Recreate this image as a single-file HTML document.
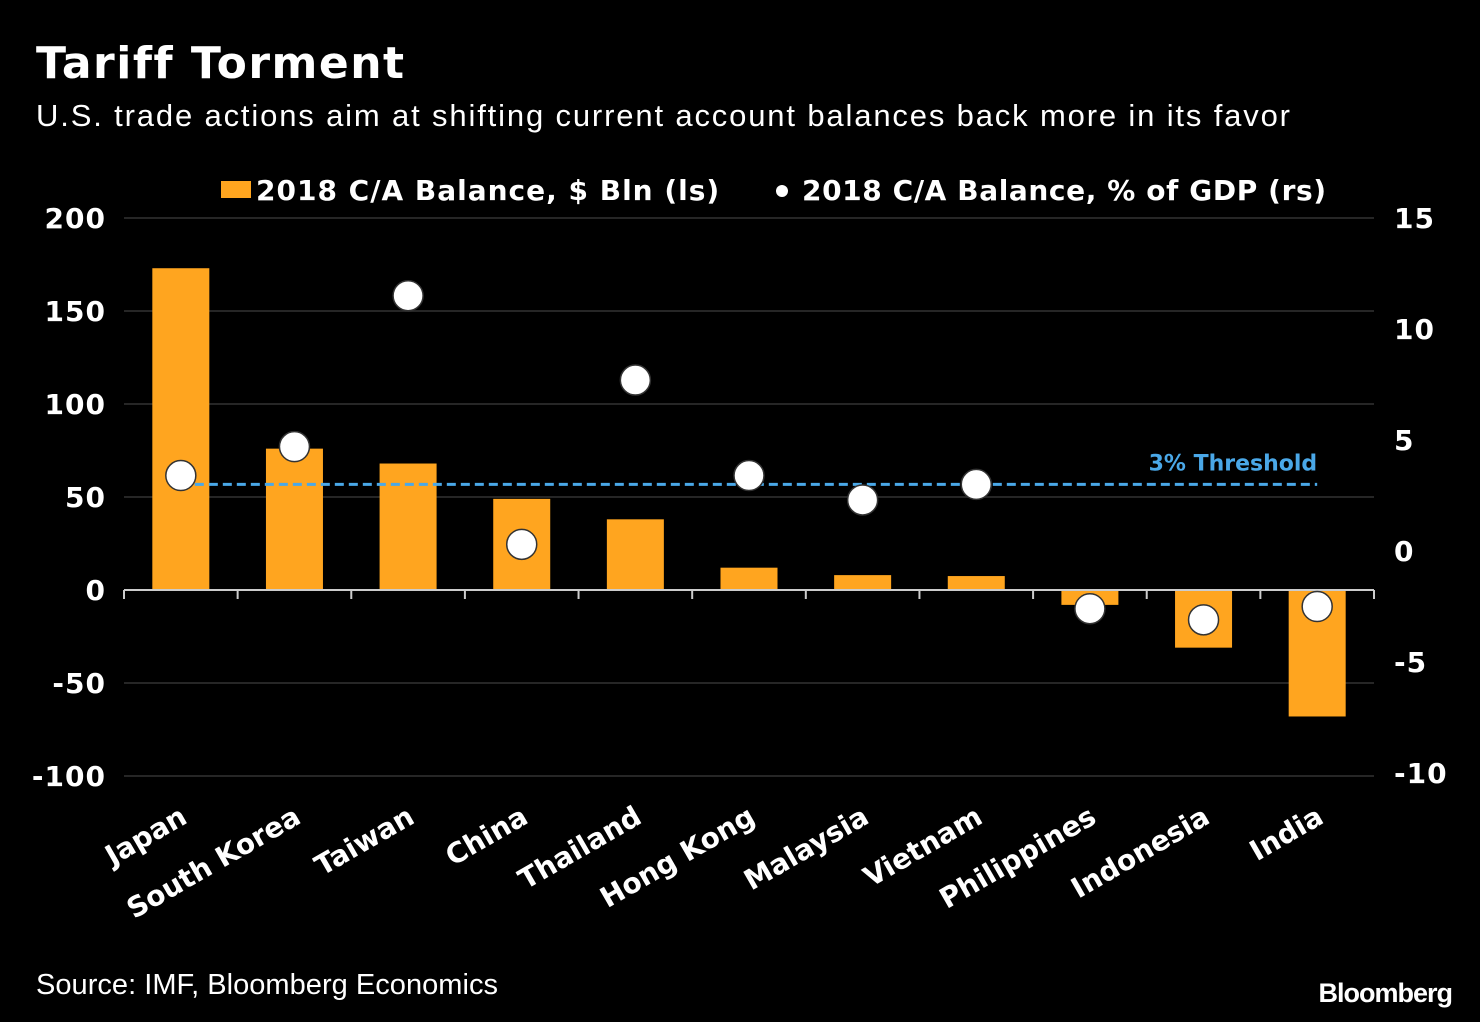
<!DOCTYPE html>
<html><head><meta charset="utf-8"><style>
body{margin:0;background:#000;width:1480px;height:1022px;overflow:hidden;font-family:"DejaVu Sans","Liberation Sans",sans-serif;}
svg{display:block}
</style></head><body>
<svg width="1480" height="1022">
<text x="36" y="78" fill="#fff" font-size="44" font-weight="bold" letter-spacing="1.5">Tariff Torment</text>
<text x="36" y="126" fill="#fff" font-size="31" font-family="Liberation Sans, sans-serif" textLength="1254">U.S. trade actions aim at shifting current account balances back more in its favor</text>
<g>
<rect x="221" y="181" width="30" height="17" fill="#FFA51F"/>
<text x="256" y="200" fill="#fff" font-size="28" font-weight="bold" letter-spacing="1">2018 C/A Balance, $ Bln (ls)</text>
<circle cx="782" cy="191" r="6" fill="#fff"/>
<text x="802" y="200" fill="#fff" font-size="28" font-weight="bold" letter-spacing="0.6">2018 C/A Balance, % of GDP (rs)</text>
</g>
<g id="grid"></g><g id="bars"></g><g id="axis"></g><g id="dots"></g>
<text x="36" y="994" fill="#fff" font-size="29" font-family="Liberation Sans, sans-serif" textLength="462">Source: IMF, Bloomberg Economics</text>
<text x="1452" y="1002" fill="#fff" font-size="27" font-weight="bold" text-anchor="end" font-family="Liberation Sans, sans-serif" letter-spacing="-1">Bloomberg</text>
</svg>
<script>
const categories=["Japan","South Korea","Taiwan","China","Thailand","Hong Kong","Malaysia","Vietnam","Philippines","Indonesia","India"];
const balanceBln=[173,76,68,49,38,12,8,7.5,-8,-31,-68];
const balancePct=[3.4,4.7,11.5,0.3,7.7,3.4,2.3,3.0,-2.6,-3.1,-2.5];
const leftTicks=[200,150,100,50,0,-50,-100];
const rightTicks=[15,10,5,0,-5,-10];
const threshold=3;
const NS="http://www.w3.org/2000/svg";
const X0=124,X1=1374,step=(X1-X0)/categories.length;
const yL=v=>590-v*1.86;
const yR=v=>551-v*22.2;
const xC=i=>X0+step*(i+0.5);
function mk(p,t,a){const e=document.createElementNS(NS,t);for(const k in a)e.setAttribute(k,a[k]);document.getElementById(p).appendChild(e);return e;}
leftTicks.forEach(v=>{
 if(v!==0){const g=mk('grid','line',{x1:X0,x2:X1,y1:yL(v),y2:yL(v),stroke:'#262626','stroke-width':2});
 
 }
 const t=mk('axis','text',{x:106,y:yL(v)+10,fill:'#fff','font-size':28,'font-weight':'bold','text-anchor':'end','letter-spacing':1});t.textContent=v;
 
 
});
rightTicks.forEach(v=>{
 const t=mk('axis','text',{x:1394,y:yR(v)+10,fill:'#fff','font-size':28,'font-weight':'bold','text-anchor':'start','letter-spacing':1});t.textContent=v;
 
 
});
categories.forEach((c,i)=>{
 const v=balanceBln[i];
 const b=mk('bars','rect',{x:xC(i)-28.5,width:57,y:Math.min(yL(v),yL(0)),height:Math.abs(yL(v)-yL(0)),fill:'#FFA51F'});
 
 
 const t=mk('axis','text',{x:0,y:0,fill:'#fff','font-size':28,'font-weight':'bold','text-anchor':'end',transform:`translate(${xC(i)+8},${822}) rotate(-30)`});t.textContent=c;
 
 
});
const za=mk('axis','line',{x1:X0,x2:X1,y1:yL(0),y2:yL(0),stroke:'#ccc','stroke-width':2});


for(let i=0;i<=categories.length;i++){const tk=mk('axis','line',{x1:X0+step*i,x2:X0+step*i,y1:yL(0),y2:yL(0)+9,stroke:'#ccc','stroke-width':2});
 
 }
const th=mk('axis','line',{x1:xC(0)+14,x2:xC(10),y1:yR(threshold),y2:yR(threshold),stroke:'#4aa8e8','stroke-width':3,'stroke-dasharray':'9,5'});


const tl=mk('axis','text',{x:xC(10),y:yR(threshold)-14,fill:'#4aa8e8','font-size':22,'font-weight':'bold','text-anchor':'end'});tl.textContent='3% Threshold';


balancePct.forEach((v,i)=>{
 const d=mk('dots','circle',{cx:xC(i),cy:yR(v),r:15,fill:'#fff',stroke:'#333','stroke-width':1.5});
 
 
});
</script>
</body></html>
